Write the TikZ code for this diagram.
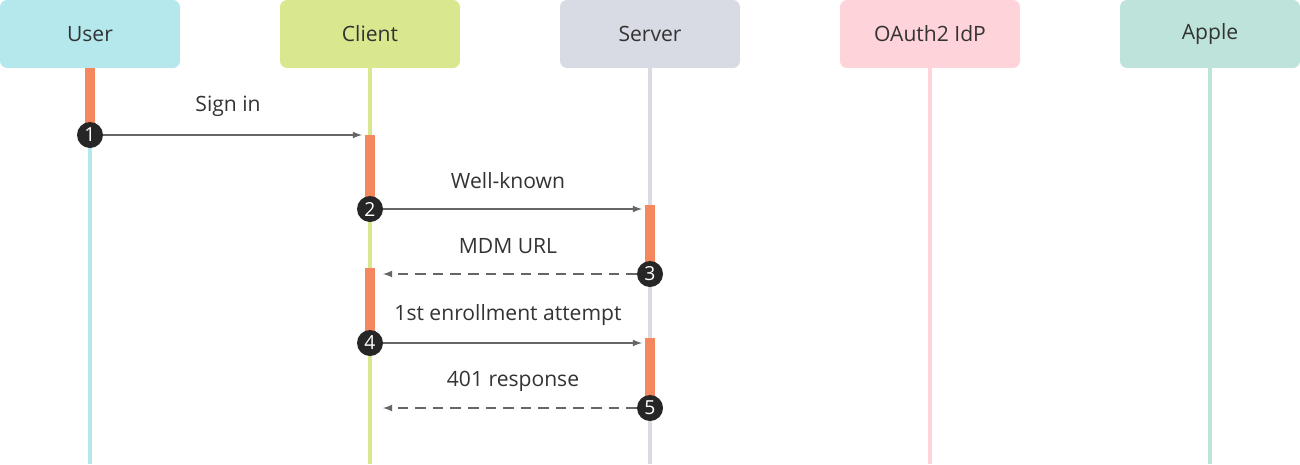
\documentclass[tikz,border=0pt]{standalone}
\usepackage{fontspec}
\setmainfont{Open Sans}
\usetikzlibrary{positioning}
\definecolor{userc}{HTML}{B5E8EC}
\definecolor{clientc}{HTML}{D9E78E}
\definecolor{serverc}{HTML}{D8DAE4}
\definecolor{idpc}{HTML}{FFD3DA}
\definecolor{applec}{HTML}{BDE3DA}
\definecolor{actc}{HTML}{F5875E}
\definecolor{msgc}{HTML}{666666}
\definecolor{txtc}{HTML}{333333}
\tikzset{
  head/.style={fill=#1,draw=none,rounded corners=4pt,minimum width=3.6cm,minimum height=1.36cm,
    text=txtc,font=\fontsize{12}{14}\selectfont},
  life/.style={draw=#1,line width=2.2pt},
  act/.style={fill=actc,draw=none},
  num/.style={circle,fill=black!85,text=white,inner sep=0pt,minimum size=0.52cm,
    font=\fontsize{11}{12}\selectfont},
  msg/.style={draw=msgc,line width=0.8pt,-latex},
  reply/.style={msg,dash pattern=on 6pt off 4pt},
  lbl/.style={text=txtc,font=\fontsize{12}{14}\selectfont}
}
\begin{document}
\begin{tikzpicture}[x=0.02cm,y=-0.02cm]
\useasboundingbox (0,0) rectangle (1300,464);

%Lifelines with the header boxes on top
\foreach \name/\x/\col/\txt in {user/90/userc/User,client/370/clientc/Client,server/650/serverc/Server,idp/930/idpc/OAuth2 IdP,apple/1210/applec/Apple}
  {
  \draw[life=\col] (\x,60) -- (\x,464);
  \node[head=\col] (\name) at (\x,34) {\txt};
  }

%Activation bars
\foreach \x/\ya/\yb in {90/68/135,370/135/205,650/205/270,370/268/340,650/338/405}
  \fill[act] (\x-5,\ya) rectangle (\x+5,\yb);

%Numbered steps and messages
\node[num] (s1) at (90,135) {1};
\node[num] (s2) at (370,209) {2};
\node[num] (s3) at (650,274) {3};
\node[num] (s4) at (370,343) {4};
\node[num] (s5) at (650,408) {5};
\coordinate (e1) at (362,135);
\coordinate (e2) at (642,209);
\coordinate (e3) at (383,274);
\coordinate (e4) at (642,343);
\coordinate (e5) at (383,408);

\draw[msg] (s1) -- (e1);
\draw[msg] (s2) -- (e2);
\draw[reply] (s3) -- (e3);
\draw[msg] (s4) -- (e4);
\draw[reply] (s5) -- (e5);

\node[lbl] (l1) at (228,106) {Sign in};
\node[lbl] (l2) at (508,181) {Well-known};
\node[lbl] (l3) at (508,246) {MDM URL};
\node[lbl] (l4) at (508,315) {1st enrollment attempt};
\node[lbl] (l5) at (513,381) {401 response};

\end{tikzpicture}
\end{document}
